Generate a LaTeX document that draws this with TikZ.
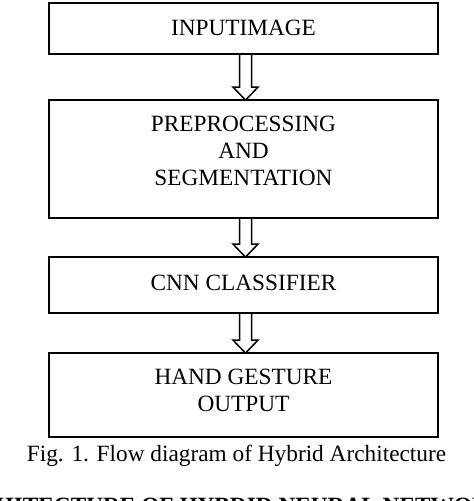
\documentclass[tikz,border=0pt]{standalone}
\usepackage{fontspec}
\setmainfont{Liberation Serif}
\usetikzlibrary{calc}
\begin{document}
\begin{tikzpicture}[x=1pt,y=-1pt,
  box/.style={draw=black,line width=1.8pt,rectangle,minimum width=389pt,inner sep=0pt},
  txt/.style={inner sep=0pt,align=center,font=\fontsize{23.3}{27}\selectfont},
  blockarrow/.style={draw=black,line width=1.5pt,line join=miter}]
\useasboundingbox (0,0) rectangle (474,501);
\node[box,minimum height=51pt] (b1) at (243.5,28.5) {};
\node[box,minimum height=118pt] (b2) at (243.5,159) {};
\node[box,minimum height=56pt] (b3) at (243.5,285) {};
\node[box,minimum height=84pt] (b4) at (243.5,395) {};
\node[txt,anchor=base] (t1) at (243.5,35) {INPUTIMAGE};
\node[txt] (t2) at (243.5,151.2) {PREPROCESSING\\AND\\SEGMENTATION};
\node[txt,anchor=base] (t3) at (243.5,290) {CNN CLASSIFIER};
\node[txt] (t4) at (243.5,390.7) {HAND GESTURE\\OUTPUT};
\foreach \s/\t in {b1/b2,b2/b3,b3/b4}{
  \draw[blockarrow] ($(\s.south)+(-4,0)$) -- ($(\t.north)+(-4,-12)$) -- ($(\t.north)+(-10.5,-12)$)
    -- ($(\t.north)+(2,1)$) -- ($(\t.north)+(14.5,-12)$) -- ($(\t.north)+(8,-12)$) -- ($(\s.south)+(8,0)$);
}
\node[txt,anchor=base] (cap) at (236.5,461) {Fig. 1. Flow diagram of Hybrid Architecture};
\begin{scope}
\clip (0,0) rectangle (474,501);
\node[txt,anchor=base west,font=\fontsize{23.3}{27}\selectfont\bfseries] (sec) at (-55,513) {ARCHITECTURE OF HYBRID NEURAL NETWORK};
\end{scope}
\end{tikzpicture}
\end{document}
